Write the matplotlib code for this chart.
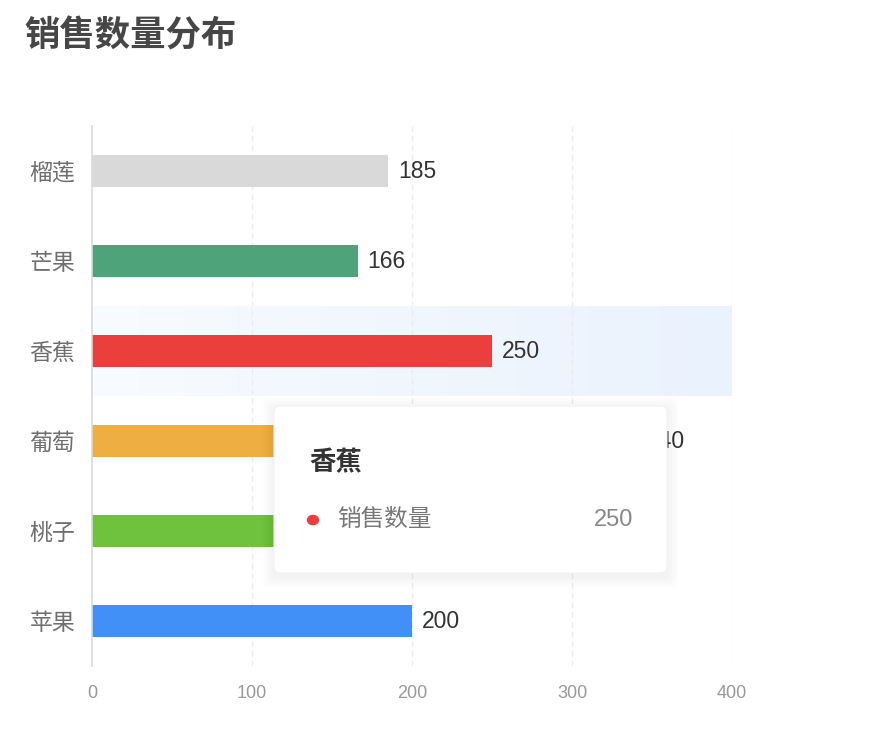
import matplotlib
matplotlib.use("Agg")
import matplotlib.pyplot as plt
from matplotlib.patches import FancyBboxPatch, Circle
from matplotlib.colors import LinearSegmentedColormap
import numpy as np

plt.rcParams['font.family'] = ['Liberation Sans', 'Noto Sans CJK SC', 'DejaVu Sans']

title = "销售数量分布"
series_name = "销售数量"
categories = ["苹果", "桃子", "葡萄", "香蕉", "芒果", "榴莲"]
values = [200, 230, 340, 250, 166, 185]
colors = ["#4190f5", "#6fc23e", "#efae41", "#ea3f3d", "#4ea37b", "#d9d9d9"]
x_ticks = [0, 100, 200, 300, 400]
hover_index = 3

W, H = 874, 732
fig = plt.figure(figsize=(W/100, H/100), dpi=100)
ax = fig.add_axes([92/W, 1-666/H, 640/W, 540/H])
ax.set_xlim(0, 400)
ax.set_ylim(-0.5, len(categories)-0.5)

# highlight band (axis pointer shadow)
grad = np.linspace(0, 1, 256).reshape(1, -1)
cmap = LinearSegmentedColormap.from_list("g", ["#f8fbff", "#eaf2fd"])
ax.imshow(grad, extent=[0, 400, hover_index-0.5, hover_index+0.5], aspect='auto',
          cmap=cmap, zorder=0.5)

ax.barh(range(len(categories)), values, height=32/90, color=colors, zorder=2)
for i, v in enumerate(values):
    ax.text(v + 10/1.6, i, str(v), va='center', ha='left', fontsize=16.5, color='#333333', zorder=3)

ax.set_yticks(range(len(categories)))
ax.set_yticklabels(categories, fontsize=16.5, color='#6e6e6e')
ax.set_xticks(x_ticks)
ax.set_xticklabels([str(t) for t in x_ticks], fontsize=13, color='#999999')
ax.tick_params(axis='both', length=0)
ax.tick_params(axis='y', pad=12)
ax.tick_params(axis='x', pad=14)
for t in x_ticks[1:]:
    ax.axvline(t, color='#ebebeb', linestyle=(0, (4, 3)), linewidth=1, zorder=1)
for s in ['top', 'right', 'bottom']:
    ax.spines[s].set_visible(False)
ax.spines['left'].set_color('#d9d9d9')
ax.spines['left'].set_linewidth(1.2)
ax.set_facecolor('none')

fig.text(24/W, 1-36/H, title, fontsize=25.5, fontweight='bold', color='#464646', va='center', ha='left')

# tooltip
def fx(px): return px / W
def fy(py): return 1 - py / H
for k in range(12, 0, -1):
    sh = FancyBboxPatch((fx(274 - k), fy(576 + k)), fx(393 + 2*k), (167 + 2*k)/H,
                        boxstyle="round,pad=0,rounding_size=0.008", transform=fig.transFigure,
                        facecolor='black', edgecolor='none', alpha=0.004, zorder=9)
    fig.add_artist(sh)
box = FancyBboxPatch((fx(274), fy(573)), fx(393), 167/H,
                     boxstyle="round,pad=0,rounding_size=0.008", transform=fig.transFigure,
                     facecolor='white', edgecolor='#f2f2f2', linewidth=0.8, zorder=10)
fig.add_artist(box)
fig.text(fx(309), fy(462), categories[hover_index], fontsize=19, fontweight='bold', color='#333333',
         va='center', ha='left', zorder=11)
fig.add_artist(Circle((fx(313), fy(520)), 5.5/W, transform=fig.transFigure, color=colors[hover_index], zorder=11))
fig.text(fx(337), fy(520), series_name, fontsize=17, color='#777777', va='center', ha='left', zorder=11)
fig.text(fx(633), fy(520), str(values[hover_index]), fontsize=17, color='#888888', va='center', ha='right', zorder=11)

fig.savefig("out.png", dpi=100, facecolor='white')
